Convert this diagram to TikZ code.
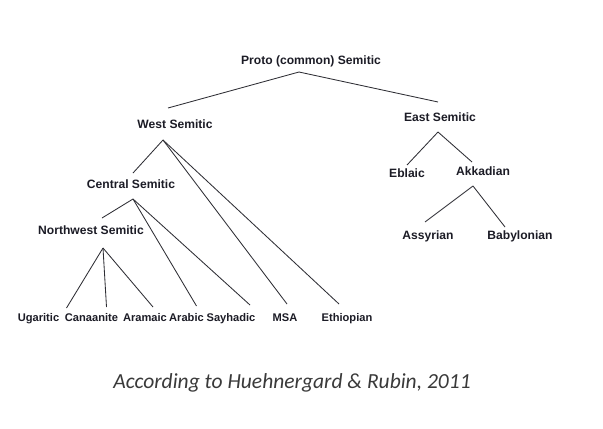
\documentclass[tikz,border=0pt]{standalone}
\usepackage{fontspec}
\setsansfont{Liberation Sans}
\newfontfamily\captionfont{Carlito}
\usepackage{tikz}
\usetikzlibrary{calc}
\definecolor{ink1}{HTML}{1C1C26}
\definecolor{line1}{HTML}{2E2E34}
\definecolor{cap1}{HTML}{3A3A3A}

\begin{document}
\begin{tikzpicture}[
    x=0.025cm, y=-0.025cm,
    lang/.style={inner sep=0pt, text height=6.2pt, text depth=0pt,
                 font=\sffamily\bfseries\fontsize{8.6}{10}\selectfont,
                 text=ink1},
    leaf/.style={lang, text height=5.7pt,
                 font=\sffamily\bfseries\fontsize{7.9}{9.5}\selectfont},
    branch/.style={draw=line1, line width=0.6pt},
]
\useasboundingbox[fill=white] (0,0) rectangle (603,428);

% ── root ──
\node[lang] (proto) at (311,60) {Proto (common) Semitic};

% ── West / East ──
\node[lang] (ws) at (175,124) {West Semitic};
\node[lang] (es) at (440,117) {East Semitic};

% ── West Semitic subgroups ──
\node[lang] (cs)  at (131,184) {Central Semitic};
\node[lang] (nws) at (91,230)  {Northwest Semitic};

% ── leaves ──
\node[leaf] (ug)   at (38.5,317) {Ugaritic};
\node[leaf] (can)  at (91.5,317) {Canaanite};
\node[leaf] (ara)  at (145,317)  {Aramaic};
\node[leaf] (arab) at (186.5,317) {Arabic};
\node[leaf] (say)  at (231,317)  {Sayhadic};
\node[leaf] (msa)  at (285,317)  {MSA};
\node[leaf] (eth)  at (347,317)  {Ethiopian};

% ── East Semitic subgroups ──
\node[lang] (eb)  at (407,173) {Eblaic};
\node[lang] (akk) at (483,171) {Akkadian};
\node[lang] (ass) at (428,235) {Assyrian};
\node[lang] (bab) at (520,235) {Babylonian};

% ── fork points below parents ──
\coordinate (proto-fork) at ($(proto)+(-12,12)$);
\coordinate (ws-fork)    at ($(ws)+(-12,16)$);
\coordinate (cs-fork)    at ($(cs)+(2,15)$);
\coordinate (nws-fork)   at ($(nws)+(12,18)$);
\coordinate (es-fork)    at ($(es)+(-2,15)$);
\coordinate (akk-fork)   at ($(akk)+(-10,15)$);

% ── branches ──
\draw[branch] (proto-fork) -- ($(ws)+(-7,-16)$);
\draw[branch] (proto-fork) -- ($(es)+(-2,-15)$);

\draw[branch] (ws-fork) -- ($(cs)+(2,-11)$);
\draw[branch] (ws-fork) -- ($(msa)+(2,-13)$);
\draw[branch] (ws-fork) -- ($(eth)+(-8,-13)$);

\draw[branch] (cs-fork) -- ($(nws)+(11,-12)$);
\draw[branch] (cs-fork) -- ($(arab)+(10,-11)$);
\draw[branch] (cs-fork) -- ($(say)+(19,-12)$);

\draw[branch] (nws-fork) -- ($(ug)+(28,-9)$);
\draw[branch] (nws-fork) -- ($(can)+(15,-10)$);
\draw[branch] (nws-fork) -- ($(ara)+(8,-10)$);

\draw[branch] (es-fork) -- ($(eb)+(0,-8)$);
\draw[branch] (es-fork) -- ($(akk)+(-11,-9)$);

\draw[branch] (akk-fork) -- ($(ass)+(-3,-13)$);
\draw[branch] (akk-fork) -- ($(bab)+(-15,-8)$);

% ── source ──
\node[inner sep=0pt, text height=9.6pt, text depth=0pt, text=cap1,
      font=\captionfont\itshape\fontsize{15.3}{18}\selectfont]
    (source) at (292,382) {According to Huehnergard \& Rubin, 2011};

\end{tikzpicture}
\end{document}
